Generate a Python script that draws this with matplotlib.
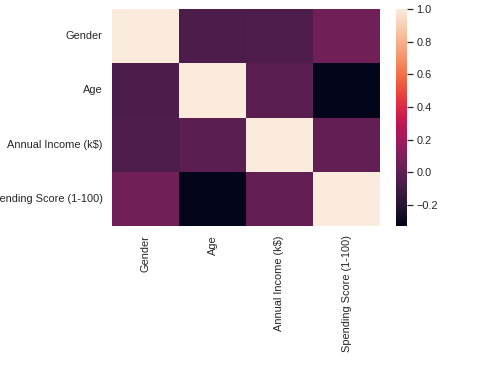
import matplotlib
matplotlib.use("Agg")
import matplotlib.pyplot as plt
import seaborn as sns
import pandas as pd
import numpy as np

labels = ["Gender", "Age", "Annual Income (k$)", "Spending Score (1-100)"]
row_gender = [1.000000, -0.060867, -0.056410, 0.058109]
row_age = [-0.060867, 1.000000, -0.012398, -0.327227]
row_income = [-0.056410, -0.012398, 1.000000, 0.009903]
row_spending = [0.058109, -0.327227, 0.009903, 1.000000]

corr = pd.DataFrame([row_gender, row_age, row_income, row_spending],
                    index=labels, columns=labels)

sns.set_theme(style="white")
plt.rcParams['font.family'] = ['Liberation Sans', 'DejaVu Sans']

W, H = 479, 367
dpi = 72
fig = plt.figure(figsize=(W / dpi, H / dpi), dpi=dpi)
ax = fig.add_axes([112 / W, (H - 226) / H, 268 / W, 217 / H])
cax = fig.add_axes([396 / W, (H - 226) / H, 11 / W, 217 / H])

sns.heatmap(corr, ax=ax, cbar_ax=cax)
ax.tick_params(labelsize=11)
cax.tick_params(labelsize=11)

fig.savefig("out.png", dpi=dpi)
